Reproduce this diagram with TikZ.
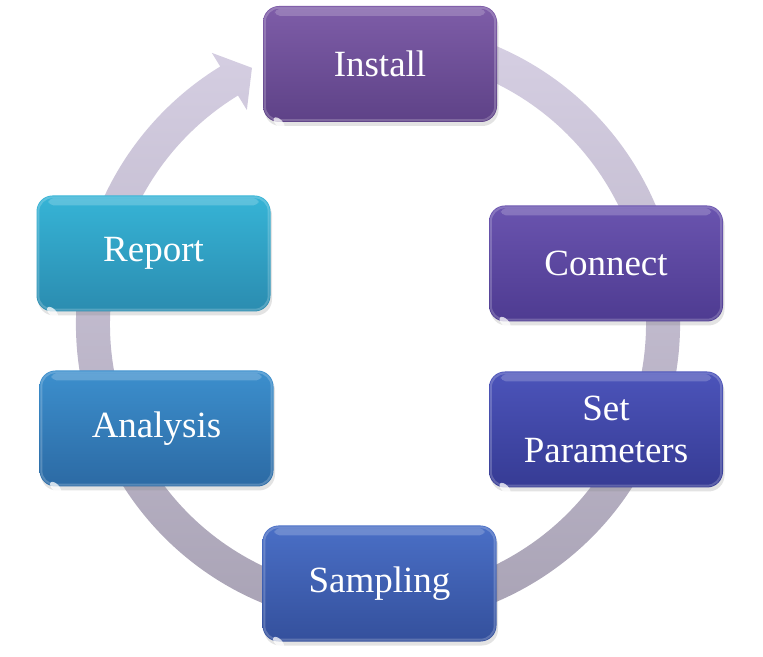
\documentclass[tikz,border=0pt]{standalone}
\usepackage{fontspec}
\setmainfont{Liberation Serif}
\usetikzlibrary{shadows,calc}
\definecolor{ringtop}{RGB}{214,207,227}
\definecolor{ringbot}{RGB}{166,160,178}
\definecolor{insT}{RGB}{126,93,168}
\definecolor{insB}{RGB}{94,66,135}
\definecolor{conT}{RGB}{106,84,175}
\definecolor{conB}{RGB}{78,59,145}
\definecolor{setT}{RGB}{76,84,186}
\definecolor{setB}{RGB}{54,59,148}
\definecolor{samT}{RGB}{74,111,198}
\definecolor{samB}{RGB}{52,80,156}
\definecolor{anaT}{RGB}{60,143,205}
\definecolor{anaB}{RGB}{44,106,164}
\definecolor{repT}{RGB}{54,180,214}
\definecolor{repB}{RGB}{43,140,176}
\newcommand\glossbox[1]{%
  \fill[white, opacity=0.2, rounded corners=5pt] ($(#1.north west)+(12,-3)$) rectangle ($(#1.north east)+(-12,-10)$);
  \draw[white, opacity=0.2, line width=2pt, rounded corners=14pt] ($(#1.south west)+(2,2)$) rectangle ($(#1.north east)+(-2,-2)$);
  \fill[white, opacity=0.75, rotate around={-45:($(#1.south west)+(12,11)$)}] ($(#1.south west)+(12,11)$) ellipse[x radius=7, y radius=3.5];
}
\begin{document}
\begin{tikzpicture}[x=1pt,y=1pt,
  stepbox/.style={rounded corners=16pt, minimum width=234pt, minimum height=116pt,
    text=white, font=\fontsize{37}{42}\selectfont, align=center, inner sep=0pt,
    drop shadow={shadow xshift=1.5pt, shadow yshift=-4pt, opacity=0.22}},
]
\useasboundingbox (0,0) rectangle (763,656);
\coordinate (c) at (378,332);
\shade[top color=ringtop, bottom color=ringbot]
  ($(c)+(75:302)$) arc[start angle=75, end angle=-238.5, radius=302]
  -- ($(c)+(-238.5:318)$) -- ($(c)+(-243.8:285.5)$) -- ($(c)+(-238.5:251)$)
  -- ($(c)+(-238.5:268)$) arc[start angle=-238.5, end angle=75, radius=268] -- cycle;
\draw[white, opacity=0.6, line width=0.8pt] ($(c)+(-238.5:266)$) arc[start angle=-238.5, end angle=75, radius=266];

\node[stepbox, top color=insT, bottom color=insB] (install) at (380,592) {Install};
\node[stepbox, top color=conT, bottom color=conB] (connect) at (606,392.5) {Connect};
\node[stepbox, top color=setT, bottom color=setB] (setp) at (606,226.5) {Set\\Parameters};
\node[stepbox, top color=samT, bottom color=samB] (sampling) at (379.5,72.5) {Sampling};
\node[stepbox, top color=anaT, bottom color=anaB] (analysis) at (156.5,227.5) {Analysis};
\node[stepbox, top color=repT, bottom color=repB] (report) at (153.5,402.5) {Report};
\glossbox{install}
\glossbox{connect}
\glossbox{setp}
\glossbox{sampling}
\glossbox{analysis}
\glossbox{report}
\end{tikzpicture}
\end{document}
